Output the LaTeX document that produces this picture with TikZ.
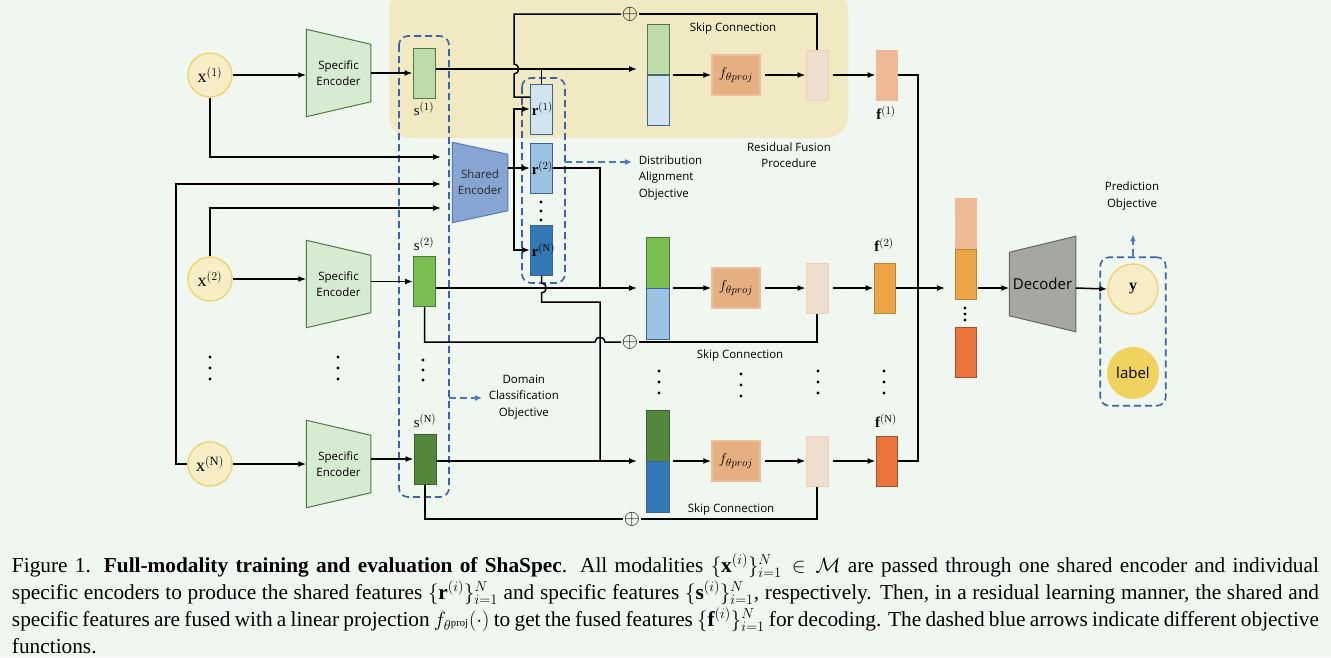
\documentclass[tikz,border=0pt]{standalone}
\usepackage{fontspec}
\usepackage{amsmath}
\setmainfont{Liberation Serif}
\newfontfamily\diagfont{Open Sans}
\usetikzlibrary{calc,fit,arrows.meta}
\definecolor{bgc}{RGB}{240,246,240}
\definecolor{yelbg}{RGB}{240,233,193}
\definecolor{circf}{RGB}{247,238,198}
\definecolor{circd}{RGB}{240,212,120}
\definecolor{encf}{RGB}{215,235,210}
\definecolor{encd}{RGB}{80,120,60}
\definecolor{sone}{RGB}{190,220,170}
\definecolor{stwo}{RGB}{120,190,80}
\definecolor{sn}{RGB}{82,135,60}
\definecolor{rone}{RGB}{210,228,240}
\definecolor{rtwo}{RGB}{155,195,225}
\definecolor{rn}{RGB}{50,120,180}
\definecolor{rd}{RGB}{60,100,150}
\definecolor{projf}{RGB}{230,175,130}
\definecolor{lbf}{RGB}{237,222,205}
\definecolor{lbd}{RGB}{245,205,175}
\definecolor{fone}{RGB}{240,185,150}
\definecolor{ftwo}{RGB}{235,165,70}
\definecolor{fn}{RGB}{235,115,60}
\definecolor{decf}{RGB}{165,167,162}
\definecolor{dashb}{RGB}{55,100,170}
\definecolor{arrb}{RGB}{70,120,200}
\definecolor{shf}{RGB}{135,165,210}
\definecolor{shd}{RGB}{90,120,180}
\definecolor{labf}{RGB}{240,210,95}

\tikzset{
  feat/.style={draw, minimum width=22pt, minimum height=50pt, inner sep=0pt, line width=1pt},
  modal/.style={circle, draw=circd, fill=circf, minimum size=44pt, inner sep=0pt, font=\fontsize{18}{20}\selectfont},
  enc/.style={minimum width=63pt, minimum height=86pt, inner sep=0pt, align=center, font=\diagfont\fontsize{11.5}{16}\selectfont},
  proj/.style={fill=projf, draw=projf!80!white, minimum width=48pt, minimum height=40pt, inner sep=0pt, font=\fontsize{15}{16}\selectfont},
  plus/.style={inner sep=0pt, font=\fontsize{22}{22}\selectfont},
  grp/.style={draw=dashb, dashed, line width=1.6pt, dash pattern=on 7pt off 4pt, rounded corners=9pt},
  obj/.style={-{Latex[length=7pt,width=6pt]}, arrb, line width=1.3pt, dash pattern=on 7pt off 4pt},
  txt/.style={font=\diagfont\fontsize{11.5}{16.5}\selectfont, align=center, inner sep=0pt},
  lbl/.style={font=\fontsize{15}{16}\selectfont, inner sep=0pt},
  hop/.style={out=0, in=0, looseness=1.6},
}
\newcommand{\dotcol}[3]{\foreach \k in {0,1,2} \fill (#1,#2+\k*#3) circle (1.7pt);}

\begin{document}
\begin{tikzpicture}[x=1pt, y=-1pt, >={Latex[length=8pt,width=6pt]}, line width=1.5pt]
\fill[bgc] (0,0) rectangle (1331,657);
\useasboundingbox (0,0) rectangle (1331,657);
\fill[yelbg, rounded corners=22pt] (389,-12) rectangle (848,138);

% modalities
\node[modal] (x1) at (210,75) {$\mathrm{x}^{(1)}$};
\node[modal] (x2) at (210,279) {$\mathrm{x}^{(2)}$};
\node[modal] (xN) at (210,464) {$\mathrm{x}^{(\mathrm{N})}$};

% specific encoders
\foreach \n/\y in {1/73,2/284,N/464} {
  \node[enc] (enc\n) at (338.5,\y) {};
  \filldraw[fill=encf, draw=encd, line width=1pt] (enc\n.north west) -- ($(enc\n.north east)+(0,15)$)
     -- ($(enc\n.south east)+(0,-15)$) -- (enc\n.south west) -- cycle;
  \node[enc] at (enc\n) {Specific\\Encoder};
}
\node[enc, minimum width=54pt, minimum height=79pt] (shenc) at (480,182.5) {};
\filldraw[fill=shf, draw=shd, line width=1pt] (shenc.north west) -- ($(shenc.north east)+(0,12)$)
   -- ($(shenc.south east)+(0,-12)$) -- (shenc.south west) -- cycle;
\node[enc, text=black!85] at (shenc) {Shared\\Encoder};

% specific features
\node[feat, fill=sone, draw=encd] (s1) at (424,73) {};
\node[feat, fill=stwo, draw=encd] (s2) at (424.5,281.5) {};
\node[feat, fill=sn, draw=encd!80!black] (sN) at (425,459) {};
\node[lbl] at (424,109) {$\mathrm{s}^{(1)}$};
\node[lbl] at (424,244) {$\mathrm{s}^{(2)}$};
\node[lbl] at (425,421) {$\mathrm{s}^{(\mathrm{N})}$};

% shared features
\node[feat, fill=rone, draw=rd] (r1) at (541.5,109) {};
\node[feat, fill=rtwo, draw=rd] (r2) at (541.5,168) {};
\node[feat, fill=rn, draw=rd] (rN) at (541.5,250) {};
\node[lbl, anchor=west] at ([xshift=1pt]r1.west) {$\mathbf{r}^{(1)}$};
\node[lbl, anchor=west] at ([xshift=1pt]r2.west) {$\mathbf{r}^{(2)}$};
\node[lbl, anchor=west] at ([xshift=1pt]rN.west) {$\mathbf{r}^{(\mathrm{N})}$};

% concatenations, projections
\foreach \n/\y in {1/75,2/288,N/461} {
  \node[feat, fill=sone, draw=encd, anchor=south] (catg\n) at (658,\y) {};
  \node[feat, fill=rone, draw=rd, anchor=north] (catb\n) at (658,\y) {};
  \node[proj] (proj\n) at (736,\y) {$f_{\theta proj}$};
  \node[feat, fill=lbf, draw=lbd] (lb\n) at (817,\y) {};
  \draw[->] (catg\n.south east) ++(3,0) -- (proj\n.west);
  \draw[->] (proj\n.east) ++(4,0) -- (lb\n.west);
}
\filldraw[fill=stwo, draw=encd, line width=1pt] (catg2.south west) rectangle (catg2.north east);
\filldraw[fill=rtwo, draw=rd, line width=1pt] (catb2.south west) rectangle (catb2.north east);
\filldraw[fill=sn, draw=encd!80!black, line width=1pt] (catgN.south west) rectangle (catgN.north east);
\filldraw[fill=rn, draw=rd, line width=1pt] (catbN.south west) rectangle (catbN.north east);

% fused features
\node[feat, fill=fone, draw=fone, minimum width=21pt] (fo1) at (886.5,75) {};
\node[feat, fill=ftwo, draw=ftwo!80!black, minimum width=21pt] (fo2) at (884.5,288) {};
\node[feat, fill=fn, draw=fn!70!black, minimum width=21pt] (foN) at (886.5,461) {};
\node[lbl] at (886,113) {$\mathbf{f}^{(1)}$};
\node[lbl] at (884,245) {$\mathbf{f}^{(2)}$};
\node[lbl] at (886,421) {$\mathbf{f}^{(\mathrm{N})}$};
\foreach \n in {1,2,N} \draw[->] (lb\n.east) ++(4,0) -- (fo\n.west);

% stacked, decoder, output
\node[feat, fill=fone, draw=fone, minimum width=21pt, minimum height=51pt] (st1) at (965.5,223.5) {};
\node[feat, fill=ftwo, draw=ftwo!80!black, minimum width=21pt] (st2) at (965.5,274) {};
\node[feat, fill=fn, draw=fn!70!black, minimum width=21pt] (st3) at (965.5,352) {};
\node[enc, minimum width=65pt, minimum height=94pt] (dec) at (1042.5,284) {};
\filldraw[fill=decf, draw=black!60, line width=1pt] ($(dec.north west)+(0,16)$) -- (dec.north east)
   -- (dec.south east) -- ($(dec.south west)+(0,-16)$) -- cycle;
\node[enc, font=\diagfont\fontsize{15}{16}\selectfont] at (dec) {Decoder};
\node[circle, draw=circd, fill=circf, minimum size=50pt, inner sep=0pt, font=\fontsize{16}{16}\selectfont] (yout) at (1133,289) {$\mathbf{y}$};
\node[circle, fill=labf, minimum size=52pt, inner sep=0pt, font=\diagfont\fontsize{15}{16}\selectfont] (lab) at (1133,373) {label};
\node[grp, fit=(yout)(lab), inner sep=6pt] (ybox) {};
\draw[->] (978,288) -- (dec.west |- 0,288);
\draw[->] (dec.east |- 0,288) -- (yout.west);
\draw[obj] (ybox.north) -- ++(0,-22) coordinate (predend);
\node[txt] at (1132,196) {Prediction\\Objective};

% dots
\dotcol{210}{357}{11} \dotcol{338}{357}{11} \dotcol{423}{360}{10}
\dotcol{659}{371}{11} \dotcol{741}{374}{11} \dotcol{818}{371}{11} \dotcol{884}{371}{11}
\dotcol{541}{202}{9} \dotcol{965}{308}{6}

% group boxes
\draw[grp] (399,36) rectangle (449,497);
\draw[grp] (522,78) rectangle (565,283);

% inputs
\foreach \n in {1,2,N} {
  \draw[->] (x\n) -- (enc\n.west |- x\n);
  \draw[->] (enc\n.east |- s\n) -- (s\n.west);
}
\coordinate (in1) at (441,157); \coordinate (in2) at (441,184); \coordinate (in3) at (441,208);
\draw[->] (x1.south) |- (in1);
\draw[->] (xN.west) -- (176,464) |- (in2);
\draw[->] (x2.north) |- (in3);
\coordinate (sb) at (514,168);
\draw (shenc.east |- r2) -- (sb);
\draw[->] (sb) -- (r2.west);
\draw[->] (sb) |- (r1.west);
\draw[->] (sb) |- (rN.west);

% row 1
\node[plus] (plus1) at (630,14) {$\oplus$};
\draw (lb1.north) |- (plus1.east);
\draw (plus1.west) -| (514,64) to[hop] (514,74) |- ([yshift=12pt]r1.west);
\draw[->] (s1.east |- 0,69) -- (637,69);
\draw (r1.north) -- (541.5,69);
\draw (fo1.east) -- (918,75) -- (918,461) -- (foN.east);
\draw[->] (fo2.east) -- (945,288);

% row 2
\draw[->] (s2.east |- 0,288) -- (637,288);
\draw (rN.south) -- (541.5,283) to[hop] (541.5,293) -- (541.5,302) -- (600,302) -- (600,461);
\draw (r2.east) -- (600,168) -- (600,288);
\node[plus] (plus2) at (630,342) {$\oplus$};
\draw (lb2.south) |- (plus2.east);
\draw (plus2.west) -- (605,342) to[out=90, in=90, looseness=1.6] (595,342) -| (s2.south);

% row N
\draw[->] (sN.east |- 0,461) -- (637,461);
\node[plus] (plusN) at (632,519) {$\oplus$};
\draw (lbN.south) |- (plusN.east);
\draw (plusN.west) -| (sN.south);

% labels
\node[txt] at (733,29) {Skip Connection};
\node[txt] at (740,356) {Skip Connection};
\node[txt] at (731,510) {Skip Connection};
\node[txt] at (789,155) {Residual Fusion\\Procedure};
\coordinate (distend) at (632,162);
\draw[obj] (565,162) -- (distend);
\node[txt, align=left, anchor=west] at (638,178) {Distribution\\Alignment\\Objective};
\coordinate (domend) at (482,398);
\draw[obj] (449,398) -- (domend);
\node[txt, anchor=west] at (488,397) {Domain\\Classification\\Objective};

% caption
\node[text width=1307pt, align=justify, inner sep=0pt, font=\fontsize{21.3}{27}\selectfont] at (665.5,604)
{Figure 1. \textbf{Full-modality training and evaluation of ShaSpec}. All modalities $\{\mathbf{x}^{(i)}\}_{i=1}^N \in \mathcal{M}$ are passed through one shared encoder and individual specific encoders to produce the shared features $\{\mathbf{r}^{(i)}\}_{i=1}^N$ and specific features $\{\mathbf{s}^{(i)}\}_{i=1}^N$, respectively. Then, in a residual learning manner, the shared and specific features are fused with a linear projection $f_{\theta^{\text{proj}}}(\cdot)$ to get the fused features $\{\mathbf{f}^{(i)}\}_{i=1}^N$ for decoding. The dashed blue arrows indicate different objective functions.\par};
\end{tikzpicture}
\end{document}
